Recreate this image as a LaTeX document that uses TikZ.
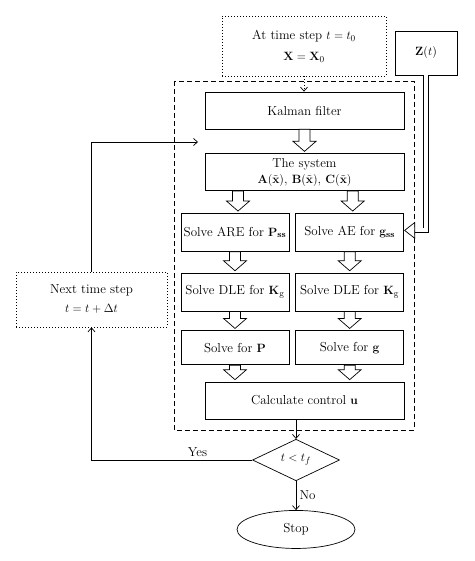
\documentclass[tikz,border=0pt]{standalone}
\usepackage{amsmath}
\usetikzlibrary{arrows.meta,positioning,shapes.geometric,calc}

\begin{document}
\begin{tikzpicture}[x=1pt,y=-1pt,>={Straight Barb[length=4pt,width=7pt]},
   font=\fontsize{13}{16}\selectfont,line width=0.7pt,
   box/.style={draw,rectangle,minimum width=199pt,minimum height=37pt,inner sep=2pt,align=center},
   halfbox/.style={box,minimum width=108pt,minimum height=38pt},
   note/.style={box,dash pattern=on 1pt off 2pt},
   blockarrow/.style={draw,fill=white,to path={
      let \p1=(\tikztostart), \p2=(\tikztotarget) in
      (\x1-5.5pt,\y1) -- (\x1+5.5pt,\y1) -- (\x1+5.5pt,\y2+12pt) -- (\x1+11.5pt,\y2+12pt)
      -- (\x1,\y2+2pt) -- (\x1-11.5pt,\y2+12pt) -- (\x1-5.5pt,\y2+12pt) -- cycle}},
   zline/.style={double,double distance=4pt,
      -{Triangle[open,fill=white,width=17pt,length=11pt,line width=0.7pt]}}]
   \useasboundingbox (0,0) rectangle (474,561);

   \node[note,minimum width=164pt,minimum height=60pt] (start) at (304,46)
        {At time step $t=t_0$\\[5pt] $\mathbf{X}=\mathbf{X}_0$};
   \node[box,minimum width=62pt,minimum height=44pt]   (zt)    at (426,53) {$\mathbf{Z}(t)$};
   \node[box]             (kalman) at (304.5,110.5)              {Kalman filter};
   \node[box]             (system) [below=24pt of kalman]
        {The system\\ $\mathbf{A}(\tilde{\mathbf{x}})$, $\mathbf{B}(\tilde{\mathbf{x}})$, $\mathbf{C}(\tilde{\mathbf{x}})$};
   \node[halfbox]         (are)    [below right=22pt and -24pt of system.south west]
        {Solve ARE for $\mathbf{P}_{\mathbf{ss}}$};
   \node[halfbox]         (ae)     [right=6pt of are]         {Solve AE for $\mathbf{g}_{\mathbf{ss}}$};
   \node[halfbox]         (dlep)   [below=21pt of are]        {Solve DLE for $\mathbf{K}_{\mathrm{g}}$};
   \node[halfbox]         (dleg)   [below=21pt of ae]         {Solve DLE for $\mathbf{K}_{\mathrm{g}}$};
   \node[halfbox,minimum height=34pt] (solvep) [below=19pt of dlep] {Solve for $\mathbf{P}$};
   \node[halfbox,minimum height=34pt] (solveg) [below=19pt of dleg] {Solve for $\mathbf{g}$};
   \node[box]             (calc)   at (304.5,400.5)           {Calculate control $\mathbf{u}$};
   \node[draw,diamond,minimum width=87pt,minimum height=34pt,inner sep=0pt] (test) at (296,460) {$t<t_f$};
   \node[draw,ellipse,minimum width=118pt,minimum height=38pt] (stop) [below=29pt of test] {Stop};
   \node[note,minimum width=151pt,minimum height=55pt] (next) at (91.5,299.5)
        {Next time step\\[3pt] $t=t+\Delta t$};
   \coordinate (back) at (198,142);

   % loop frame
   \draw[dash pattern=on 5pt off 3pt] (174,81) rectangle (414,430);

   \draw[->,dash pattern=on 1pt off 2pt] (start.south) -- (start.south |- kalman.north);
   \draw[blockarrow] (kalman.south) to (system.north);
   \draw[blockarrow] ([xshift=3pt]system.south -| are) to ([xshift=3pt]are.north);
   \draw[blockarrow] ([xshift=3pt]system.south -| ae) to ([xshift=3pt]ae.north);
   \foreach \a/\b in {are/dlep,ae/dleg,dlep/solvep,dleg/solveg}
      \draw[blockarrow] (\a.south) to (\b.north);
   \draw[blockarrow] (solvep.south) to (solvep.south |- calc.north);
   \draw[blockarrow] (solveg.south) to (solveg.south |- calc.north);
   \draw[zline] (zt.south) |- ([yshift=2pt]ae.east);

   \draw[->] (calc.south -| test.north) -- (test.north);
   \draw[->] (test.west) -| node[above,pos=0.17] {Yes} (next.south);
   \draw[->] (next.north) |- (back);
   \draw[->] (test.south) -- node[right] {No} (stop.north);
\end{tikzpicture}
\end{document}
